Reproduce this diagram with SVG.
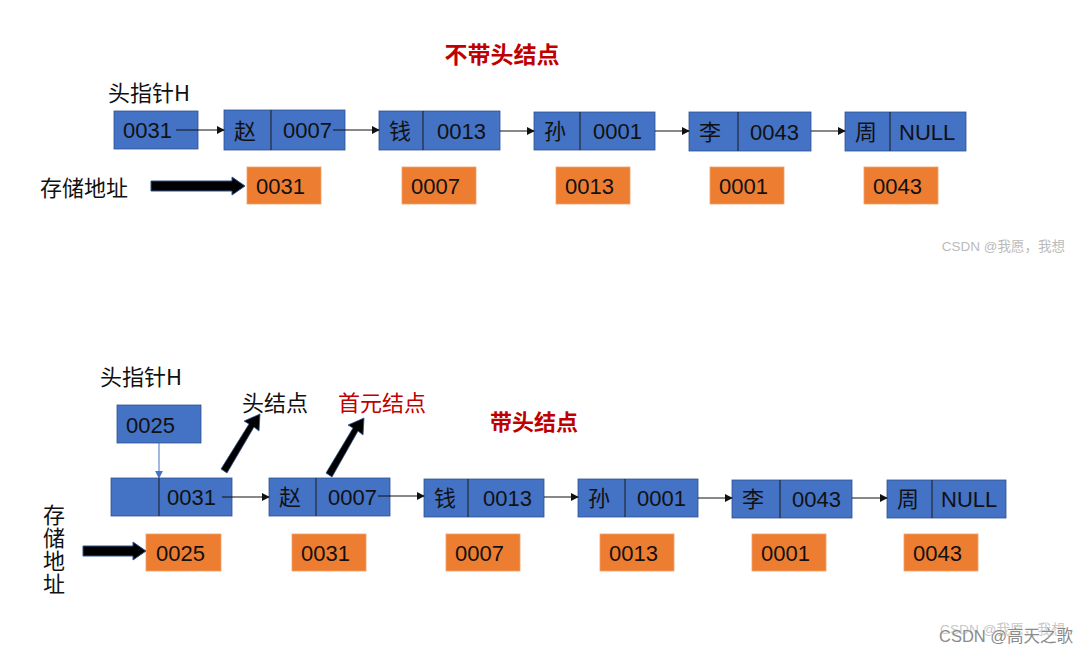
<svg xmlns="http://www.w3.org/2000/svg" width="1090" height="655" viewBox="0 0 1090 655">
<defs>
<style>
.b{fill:#4472C4;stroke:#2F528F;stroke-width:0.8}
.o{fill:#ED7D31;stroke:#f3a06a;stroke-width:0.8}
.d{stroke:#1a1a1a;stroke-width:1}
.t{font-family:"Liberation Sans","Noto Sans CJK SC",sans-serif;font-size:22px;fill:#111}
.c{font-family:"Noto Sans CJK SC","Liberation Sans",sans-serif;font-size:22px;fill:#111}
.r{font-family:"Noto Sans CJK SC",sans-serif;fill:#C00000}
.a{stroke:#111;stroke-width:1;fill:none}
.w{font-family:"Liberation Sans","Noto Sans CJK SC",sans-serif;font-size:13.5px;fill:#bbb}
</style>
<marker id="m" viewBox="0 0 10 10" refX="9" refY="5" markerWidth="8" markerHeight="8" markerUnits="userSpaceOnUse" orient="auto"><path d="M0,0 L10,5 L0,10 z" fill="#111"/></marker>
<marker id="mb" viewBox="0 0 10 10" refX="9" refY="5" markerWidth="8" markerHeight="8" markerUnits="userSpaceOnUse" orient="auto"><path d="M0,0 L10,5 L0,10 z" fill="#4472C4"/></marker>
</defs>
<rect width="1090" height="655" fill="#fff"/>
<text x="502" y="63" text-anchor="middle" class="r" font-size="23" font-weight="bold">不带头结点</text>
<text x="108" y="101" class="c">头指针H</text>
<text x="40" y="196" class="c">存储地址</text>
<g id="h1"><rect class="b" x="114" y="111" width="84" height="38"/><text x="123" y="138" class="t">0031</text></g>
<g id="n1"><rect class="b" x="224" y="110" width="121" height="40"/><line class="d" x1="271" y1="110" x2="271" y2="150"/><text x="234" y="139" class="c">赵</text><text x="283" y="138" class="t">0007</text></g>
<g id="n2"><rect class="b" x="379" y="111" width="121" height="39"/><line class="d" x1="423" y1="111" x2="423" y2="150"/><text x="389" y="139" class="c">钱</text><text x="437" y="139" class="t">0013</text></g>
<g id="n3"><rect class="b" x="534" y="112" width="121" height="38"/><line class="d" x1="580" y1="112" x2="580" y2="150"/><text x="544" y="139" class="c">孙</text><text x="593" y="139" class="t">0001</text></g>
<g id="n4"><rect class="b" x="689" y="112" width="122" height="39"/><line class="d" x1="738" y1="112" x2="738" y2="151"/><text x="699" y="140" class="c">李</text><text x="750" y="140" class="t">0043</text></g>
<g id="n5"><rect class="b" x="845" y="112" width="121" height="39"/><line class="d" x1="890" y1="112" x2="890" y2="151"/><text x="855" y="140" class="c">周</text><text x="899" y="140" class="t">NULL</text></g>
<g id="s1"><rect class="o" x="247" y="167" width="74" height="37"/><text x="256" y="194" class="t">0031</text></g>
<g id="s2"><rect class="o" x="402" y="167" width="74" height="37"/><text x="411" y="194" class="t">0007</text></g>
<g id="s3"><rect class="o" x="556" y="167" width="74" height="37"/><text x="565" y="194" class="t">0013</text></g>
<g id="s4"><rect class="o" x="710" y="167" width="74" height="37"/><text x="719" y="194" class="t">0001</text></g>
<g id="s5"><rect class="o" x="864" y="167" width="74" height="37"/><text x="873" y="194" class="t">0043</text></g>
<text x="1065" y="251" text-anchor="end" class="w">CSDN @我愿，我想</text>

<text x="100" y="385" class="c">头指针H</text>
<text x="242" y="411" class="c">头结点</text>
<text x="338" y="411" class="r" font-size="22">首元结点</text>
<text x="534" y="430" text-anchor="middle" class="r" font-size="22" font-weight="bold">带头结点</text>
<text x="54" y="504" font-family="Noto Sans CJK SC,sans-serif" font-size="22" fill="#111" writing-mode="tb" letter-spacing="1">存储地址</text>
<g id="hp"><rect class="b" x="117" y="405" width="84" height="38"/><text x="126" y="433" class="t">0025</text></g>
<g id="hn"><rect class="b" x="111" y="478" width="121" height="38"/><line class="d" x1="159" y1="478" x2="159" y2="516"/><text x="167" y="505" class="t">0031</text></g>
<g id="m1"><rect class="b" x="269" y="478" width="121" height="38"/><line class="d" x1="316" y1="478" x2="316" y2="516"/><text x="279" y="505" class="c">赵</text><text x="328" y="505" class="t">0007</text></g>
<g id="m2"><rect class="b" x="424" y="479" width="120" height="38"/><line class="d" x1="468" y1="479" x2="468" y2="517"/><text x="434" y="506" class="c">钱</text><text x="483" y="506" class="t">0013</text></g>
<g id="m3"><rect class="b" x="578" y="479" width="120" height="38"/><line class="d" x1="625" y1="479" x2="625" y2="517"/><text x="588" y="506" class="c">孙</text><text x="637" y="506" class="t">0001</text></g>
<g id="m4"><rect class="b" x="732" y="480" width="120" height="38"/><line class="d" x1="780" y1="480" x2="780" y2="518"/><text x="742" y="507" class="c">李</text><text x="792" y="507" class="t">0043</text></g>
<g id="m5"><rect class="b" x="887" y="480" width="119" height="38"/><line class="d" x1="932" y1="480" x2="932" y2="518"/><text x="897" y="507" class="c">周</text><text x="941" y="507" class="t">NULL</text></g>
<g id="o0"><rect class="o" x="146" y="534" width="75" height="37"/><text x="156" y="561" class="t">0025</text></g>
<g id="o1"><rect class="o" x="292" y="534" width="74" height="37"/><text x="301" y="561" class="t">0031</text></g>
<g id="o2"><rect class="o" x="446" y="534" width="74" height="37"/><text x="455" y="561" class="t">0007</text></g>
<g id="o3"><rect class="o" x="600" y="534" width="74" height="37"/><text x="609" y="561" class="t">0013</text></g>
<g id="o4"><rect class="o" x="752" y="534" width="74" height="37"/><text x="761" y="561" class="t">0001</text></g>
<g id="o5"><rect class="o" x="904" y="534" width="74" height="37"/><text x="913" y="561" class="t">0043</text></g>
<text x="940" y="634" class="w" style="font-size:13.7px;fill:#c8c8c8">CSDN @我愿，我想</text>
<text x="939" y="642" class="w" style="font-size:16.5px;fill:#8a8a8a;stroke:#fff;stroke-width:0.6;paint-order:stroke">CSDN @高天之歌</text>

<g id="connectors">
<line class="a" x1="176" y1="130" x2="224" y2="130" marker-end="url(#m)"/>
<line class="a" x1="333" y1="130" x2="379" y2="130" marker-end="url(#m)"/>
<line class="a" x1="500" y1="131" x2="534" y2="131" marker-end="url(#m)"/>
<line class="a" x1="655" y1="131" x2="689" y2="131" marker-end="url(#m)"/>
<line class="a" x1="811" y1="131" x2="845" y2="131" marker-end="url(#m)"/>
<path d="M151,181 L232,181 L232,177 L245,186 L232,195 L232,191 L151,191 Z" fill="#000" stroke="#2F528F" stroke-width="1"/>
<line x1="159" y1="443" x2="159" y2="478" stroke="#4472C4" stroke-width="1" marker-end="url(#mb)"/>
<line class="a" x1="222" y1="497" x2="269" y2="497" marker-end="url(#m)"/>
<line class="a" x1="378" y1="496" x2="424" y2="496" marker-end="url(#m)"/>
<line class="a" x1="544" y1="497" x2="578" y2="497" marker-end="url(#m)"/>
<line class="a" x1="698" y1="498" x2="732" y2="498" marker-end="url(#m)"/>
<line class="a" x1="852" y1="498" x2="887" y2="498" marker-end="url(#m)"/>
<path d="M83,546 L133,546 L133,542 L146,551 L133,560 L133,556 L83,556 Z" fill="#000" stroke="#2F528F" stroke-width="1"/>
<path d="M221,469 L249,424 L244,421 L260,414 L259,431 L254,427 L227,473 Z" fill="#000" stroke="#2F528F" stroke-width="0.8"/>
<path d="M326,473 L353,428 L348,425 L364,418 L363,435 L358,431 L332,477 Z" fill="#000" stroke="#2F528F" stroke-width="0.8"/>
</g>
</svg>
